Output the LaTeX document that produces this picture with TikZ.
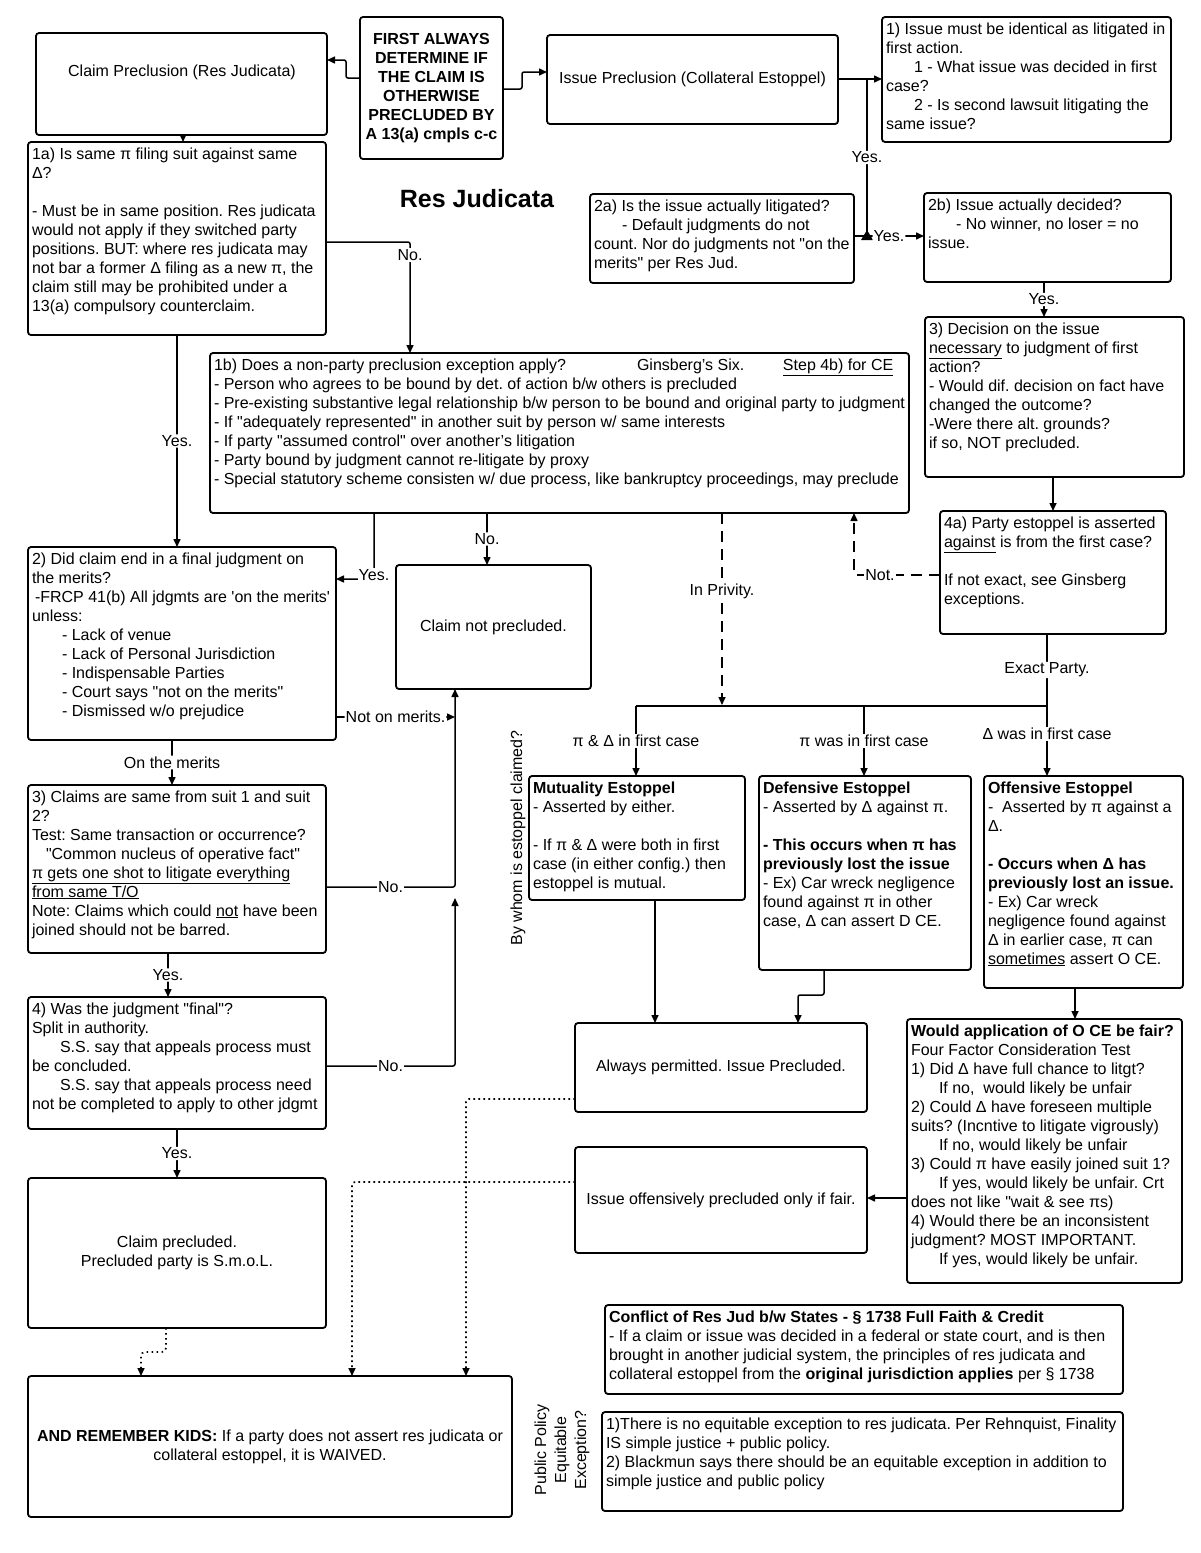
\documentclass[tikz,border=0pt]{standalone}
\usepackage{fontspec}
\setmainfont{Liberation Sans}
\usetikzlibrary{arrows.meta}
\frenchspacing
\newcommand{\fs}{\fontsize{16}{19}\selectfont}
\newcommand{\ind}{\hspace*{28pt}}
\newcommand{\dq}{\textquotedbl}
\tikzset{
 box/.style={draw, line width=1.8pt, rounded corners=3pt, inner sep=0pt, outer sep=0pt},
 txt/.style={inner sep=0pt, outer sep=0pt, align=left, anchor=north west, font=\fs},
 lab/.style={fill=white, inner sep=1pt, font=\fs},
 con/.style={line width=1.5pt, rounded corners=2pt},
 arr/.style={con, -{Triangle[length=8pt,width=7pt]}},
 dsh/.style={dash pattern=on 11pt off 7pt},
 dotl/.style={line width=1.6pt, dash pattern=on 1.6pt off 3.4pt},
}
\newcommand{\tb}[6]{%
 \node[box, minimum width={#4-#2}, minimum height={#5-#3}] (#1) at ({(#2+#4)/2},{(#3+#5)/2}) {};
 \node[txt] (#1-t) at ({#2+4},{#3+3}) {\rule{0pt}{14pt}#6};
}
\newcommand{\cb}[6]{%
 \node[box, minimum width={#4-#2}, minimum height={#5-#3}, align=center, font=\fs] (#1) at ({(#2+#4)/2},{(#3+#5)/2}) {#6};
}
\begin{document}
\begin{tikzpicture}[x=1pt,y=-1pt]
\useasboundingbox (0,0) rectangle (1200,1553);
\fill[white] (0,0) rectangle (1200,1553);

% ---------- left column (claim preclusion) ----------
\cb{cp}{36}{33}{327}{135}{}
\node[font=\fs] (cp-t) at (182,72) {Claim Preclusion (Res Judicata)};

\cb{first}{360}{17}{503}{159}{\textbf{FIRST ALWAYS}\\\textbf{DETERMINE IF}\\\textbf{THE CLAIM IS}\\\textbf{OTHERWISE}\\\textbf{PRECLUDED BY}\\\textbf{A 13(a) cmpls c-c}}

\cb{ip}{547}{35}{838}{124}{Issue Preclusion (Collateral Estoppel)}

\node[font=\bfseries\fontsize{25}{30}\selectfont] (title) at (477,199) {Res Judicata};

\tb{b1a}{28}{142}{326}{335}{1a) Is same π filing suit against same\\Δ?\\\mbox{}\\- Must be in same position. Res judicata\\would not apply if they switched party\\positions. BUT: where res judicata may\\not bar a former Δ filing as a new π, the\\claim still may be prohibited under a\\13(a) compulsory counterclaim.}

\tb{b1b}{210}{353}{909}{513}{\makebox[423pt][l]{1b) Does a non-party preclusion exception apply?}\makebox[146pt][l]{Ginsberg’s Six.}\underline{Step 4b) for CE}\\- Person who agrees to be bound by det. of action b/w others is precluded\\- Pre-existing substantive legal relationship b/w person to be bound and original party to judgment\\- If \dq adequately represented\dq{} in another suit by person w/ same interests\\- If party \dq assumed control\dq{} over another’s litigation\\- Party bound by judgment cannot re-litigate by proxy\\- Special statutory scheme consisten w/ due process, like bankruptcy proceedings, may preclude}

\tb{b2}{28}{547}{336}{740}{2) Did claim end in a final judgment on\\the merits?\\\hspace*{3pt}-FRCP 41(b) All jdgmts are \textquotesingle on the merits\textquotesingle\\unless:\\\hspace*{30pt}- Lack of venue\\\hspace*{30pt}- Lack of Personal Jurisdiction\\\hspace*{30pt}- Indispensable Parties\\\hspace*{30pt}- Court says \dq not on the merits\dq\\\hspace*{30pt}- Dismissed w/o prejudice}

\cb{cnp}{396}{565}{591}{689}{Claim not precluded.}

\tb{b3}{28}{785}{326}{953}{3) Claims are same from suit 1 and suit\\2?\\Test: Same transaction or occurrence?\\\hspace*{14pt}\dq Common nucleus of operative fact\dq\\\underline{π gets one shot to litigate everything}\\\underline{from same T/O}\\Note: Claims which could \underline{not} have been\\joined should not be barred.}

\tb{b4}{28}{997}{326}{1129}{4) Was the judgment \dq final\dq ?\\Split in authority.\\\ind S.S. say that appeals process must\\be concluded.\\\ind S.S. say that appeals process need\\not be completed to apply to other jdgmt}

\cb{cpr}{28}{1178}{326}{1328}{Claim precluded.\\Precluded party is S.m.o.L.}

\cb{rem}{28}{1376}{512}{1517}{\textbf{AND REMEMBER KIDS:} If a party does not assert res judicata or\\collateral estoppel, it is WAIVED.}

% ---------- right column (issue preclusion) ----------
\tb{iss1}{882}{17}{1171}{142}{1) Issue must be identical as litigated in\\first action.\\\ind 1 - What issue was decided in first\\case?\\\ind 2 - Is second lawsuit litigating the\\same issue?}

\tb{i2a}{590}{194}{854}{283}{2a) Is the issue actually litigated?\\\ind - Default judgments do not\\count. Nor do judgments not \dq on the\\merits\dq{} per Res Jud.}

\tb{i2b}{924}{193}{1171}{282}{2b) Issue actually decided?\\\ind - No winner, no loser = no\\issue.}

\tb{i3}{925}{317}{1184}{477}{3) Decision on the issue\\\underline{necessary} to judgment of first\\action?\\- Would dif. decision on fact have\\changed the outcome?\\-Were there alt. grounds?\\if so, NOT precluded.}

\tb{i4a}{940}{511}{1166}{634}{4a) Party estoppel is asserted\\\underline{against} is from the first case?\\\mbox{}\\If not exact, see Ginsberg\\exceptions.}

\tb{mut}{529}{776}{745}{900}{\textbf{Mutuality Estoppel}\\- Asserted by either.\\\mbox{}\\- If π \& Δ were both in first\\case (in either config.) then\\estoppel is mutual.}

\tb{def}{759}{776}{971}{970}{\textbf{Defensive Estoppel}\\- Asserted by Δ against π.\\\mbox{}\\\textbf{- This occurs when π has}\\\textbf{previously lost the issue}\\- Ex) Car wreck negligence\\found against π in other\\case, Δ can assert D CE.}

\tb{off}{984}{776}{1183}{988}{\textbf{Offensive Estoppel}\\-\ \ Asserted by π against a\\Δ.\\\mbox{}\\\textbf{- Occurs when Δ has}\\\textbf{previously lost an issue.}\\- Ex) Car wreck\\negligence found against\\Δ in earlier case, π can\\\underline{sometimes} assert O CE.}

\cb{alw}{575}{1023}{867}{1112}{Always permitted. Issue Precluded.}
\cb{ioff}{575}{1147}{867}{1253}{Issue offensively precluded only if fair.}

\tb{fair}{907}{1019}{1182}{1283}{\textbf{Would application of O CE be fair?}\\Four Factor Consideration Test\\1) Did Δ have full chance to litgt?\\\ind If no,\ \ would likely be unfair\\2) Could Δ have foreseen multiple\\suits? (Incntive to litigate vigrously)\\\ind If no, would likely be unfair\\3) Could π have easily joined suit 1?\\\ind If yes, would likely be unfair. Crt\\does not like \dq wait \& see πs)\\4) Would there be an inconsistent\\judgment? MOST IMPORTANT.\\\ind If yes, would likely be unfair.}

\tb{conf}{605}{1305}{1123}{1394}{\textbf{Conflict of Res Jud b/w States - § 1738 Full Faith \& Credit}\\- If a claim or issue was decided in a federal or state court, and is then\\brought in another judicial system, the principles of res judicata and\\collateral estoppel from the \textbf{original jurisdiction applies} per § 1738}

\tb{pub}{602}{1412}{1123}{1511}{1)There is no equitable exception to res judicata. Per Rehnquist, Finality\\IS simple justice + public policy.\\2) Blackmun says there should be an equitable exception in addition to\\simple justice and public policy}

\node[font=\fs, rotate=90] (bywhom) at (518,838) {By whom is estoppel claimed?};
\node[font=\fontsize{16}{20}\selectfont, rotate=90, align=center] (ppol) at (562,1450) {Public Policy\\Equitable\\Exception?};

% ---------- connectors: top ----------
\draw[arr] (first.west |- 0,78) -- (346,78) -- (346,60) -- (cp.east |- 0,60);
\draw[arr] (first.east |- 0,89) -- (522,89) -- (522,72) -- (ip.west |- 0,72);
\draw[arr] (183,0 |- cp.south) -- (183,0 |- b1a.north);

% ---------- claim preclusion flow ----------
\draw[arr] (b1a.east |- 0,242) -- (410,242) -- (410,0 |- b1b.north);
\node[lab] (lno1) at (410,255) {No.};
\draw[arr] (177,0 |- b1a.south) -- node[lab]{Yes.} (177,0 |- b2.north);
\draw[arr] (374,0 |- b1b.south) -- (374,579) -- (b2.east |- 0,579);
\node[lab] (lyes2) at (374,575) {Yes.};
\draw[arr] (487,0 |- b1b.south) -- node[lab]{No.} (487,0 |- cnp.north);
\draw[arr] (b2.east |- 0,717) -- node[lab, pos=0.5]{Not on merits.} (455,717);
\draw[arr] (b3.east |- 0,887) -- node[lab]{No.} (455,887) -- (455,0 |- cnp.south);
\draw[arr] (b4.east |- 0,1066) -- node[lab]{No.} (455,1066) -- (455,898);
\draw[arr] (172,0 |- b2.south) -- node[lab]{On the merits} (172,0 |- b3.north);
\draw[arr] (168,0 |- b3.south) -- node[lab]{Yes.} (168,0 |- b4.north);
\draw[arr] (177,0 |- b4.south) -- node[lab]{Yes.} (177,0 |- cpr.north);

% ---------- issue preclusion flow ----------
\draw[arr] (ip.east |- 0,79) -- (iss1.west |- 0,79);
\draw[con] (867,79) -- node[lab]{Yes.} (867,236);
\fill (861,240) -- (873,240) -- (867,230) -- cycle;
\draw[arr] (i2a.east |- 0,236) -- node[lab, pos=0.5]{Yes.} (i2b.west |- 0,236);
\draw[arr] (1044,0 |- i2b.south) -- node[lab]{Yes.} (1044,0 |- i3.north);
\draw[arr] (1053,0 |- i3.south) -- (1053,0 |- i4a.north);
\draw[arr, dsh] (i4a.west |- 0,575) -- (854,575) -- (854,0 |- b1b.south);
\node[lab] (lnot) at (880,575) {Not.};
\draw[arr, dsh] (722,0 |- b1b.south) -- node[lab, pos=0.41]{In Privity.} (722,705);
\draw[con] (1047,0 |- i4a.south) -- node[lab]{Exact Party.} (1047,706);
\draw[con] (636,706) -- (1047,706);
\draw[arr] (636,706) -- node[lab]{π \& Δ in first case} (636,0 |- mut.north);
\draw[arr] (864,706) -- node[lab]{π was in first case} (864,0 |- def.north);
\draw[arr] (1047,706) -- node[lab, pos=0.4]{Δ was in first case} (1047,0 |- off.north);
\draw[arr] (655,0 |- mut.south) -- (655,0 |- alw.north);
\draw[arr] (824,0 |- def.south) -- (824,995) -- (798,995) -- (798,0 |- alw.north);
\draw[arr] (1075,0 |- off.south) -- (1075,0 |- fair.north);
\draw[arr] (fair.west |- 0,1198) -- (ioff.east |- 0,1198);

% ---------- dotted connectors to reminder ----------
\draw[dotl, rounded corners=4pt, -{Triangle[length=8pt,width=7pt]}] (166,0 |- cpr.south) -- (166,1352) -- (141,1352) -- (141,0 |- rem.north);
\draw[dotl, rounded corners=3pt, -{Triangle[length=8pt,width=7pt]}] (alw.west |- 0,1099) -- (466,1099) -- (466,0 |- rem.north);
\draw[dotl, rounded corners=3pt, -{Triangle[length=8pt,width=7pt]}] (ioff.west |- 0,1182) -- (352,1182) -- (352,0 |- rem.north);
\end{tikzpicture}
\end{document}
